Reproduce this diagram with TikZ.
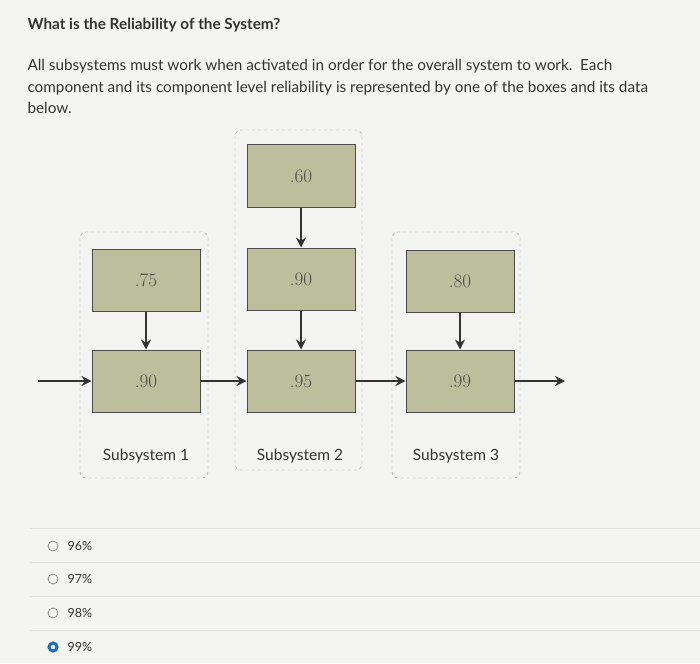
\documentclass[tikz,border=0pt]{standalone}
\usepackage{fontspec}
\setsansfont{Lato}
\usetikzlibrary{arrows.meta}
\definecolor{khaki}{HTML}{BDBE9C}
\definecolor{bg}{HTML}{F4F4F2}
\definecolor{txt}{HTML}{333333}
\definecolor{radio}{HTML}{1F6FB8}
\begin{document}
\begin{tikzpicture}[x=1pt,y=-1pt,
  comp/.style={draw=black!70,line width=1pt,fill=khaki,minimum width=108pt,minimum height=62pt,font=\fontsize{19}{22}\selectfont,text=black!70,inner sep=0pt},
  sub/.style={draw=black!40,dashed,rounded corners=6pt},
  arr/.style={-{Stealth[length=10pt,width=10pt]},black!80,line width=1.5pt},
  lab/.style={font=\sffamily\fontsize{15.5}{18}\selectfont,text=txt},
  para/.style={font=\sffamily\fontsize{15.3}{18}\selectfont,text=txt,anchor=west},
  opt/.style={font=\sffamily\fontsize{12.5}{15}\selectfont,text=txt,anchor=west}]
\fill[bg] (0,0) rectangle (700,663);
\useasboundingbox (0,0) rectangle (700,663);
\node[para,font=\sffamily\bfseries\fontsize{15.3}{18}\selectfont] (t) at (24,25) {What is the Reliability of the System?};
\node[para] (p1) at (24,66) {All subsystems must work when activated in order for the overall system to work.\ \ Each};
\node[para] (p2) at (24,88) {component and its component level reliability is represented by one of the boxes and its data};
\node[para] (p3) at (24,108) {below.};
\draw[sub] (80,232) rectangle (208,478);
\draw[sub] (235,130) rectangle (362,470);
\draw[sub] (392,232) rectangle (520,478);
\node[comp] (a1) at (146,280) {.75};
\node[comp] (a2) at (146,381) {.90};
\node[comp] (b0) at (301,176) {.60};
\node[comp] (b1) at (301,279) {.90};
\node[comp] (b2) at (301,381) {.95};
\node[comp] (c1) at (460,281) {.80};
\node[comp] (c2) at (460,381) {.99};
\coordinate (in) at (38,381);
\coordinate (out) at (565,381);
\draw[arr] (in) -- (a2);
\draw[arr] (a2) -- (b2);
\draw[arr] (b2) -- (c2);
\draw[arr] (c2) -- (out);
\draw[arr] (a1) -- (a2);
\draw[arr] (b0) -- (b1);
\draw[arr] (b1) -- (b2);
\draw[arr] (c1) -- (c2);
\node[lab] (s1) at (146,456) {Subsystem 1};
\node[lab] (s2) at (300,456) {Subsystem 2};
\node[lab] (s3) at (456,456) {Subsystem 3};
\foreach \y/\t in {546/96\%,579/97\%,613/98\%}{
  \draw[black!45,line width=0.8pt] (53,\y) circle (5pt);
  \node[opt] at (64,\y) {\t};
}
\foreach \y in {528,562,596,630}{\draw[black!12] (30,\y) -- (700,\y);}
\draw[radio,line width=3pt] (53,647) circle (4pt);
\node[opt] (o4) at (64,647) {99\%};
\end{tikzpicture}
\end{document}
